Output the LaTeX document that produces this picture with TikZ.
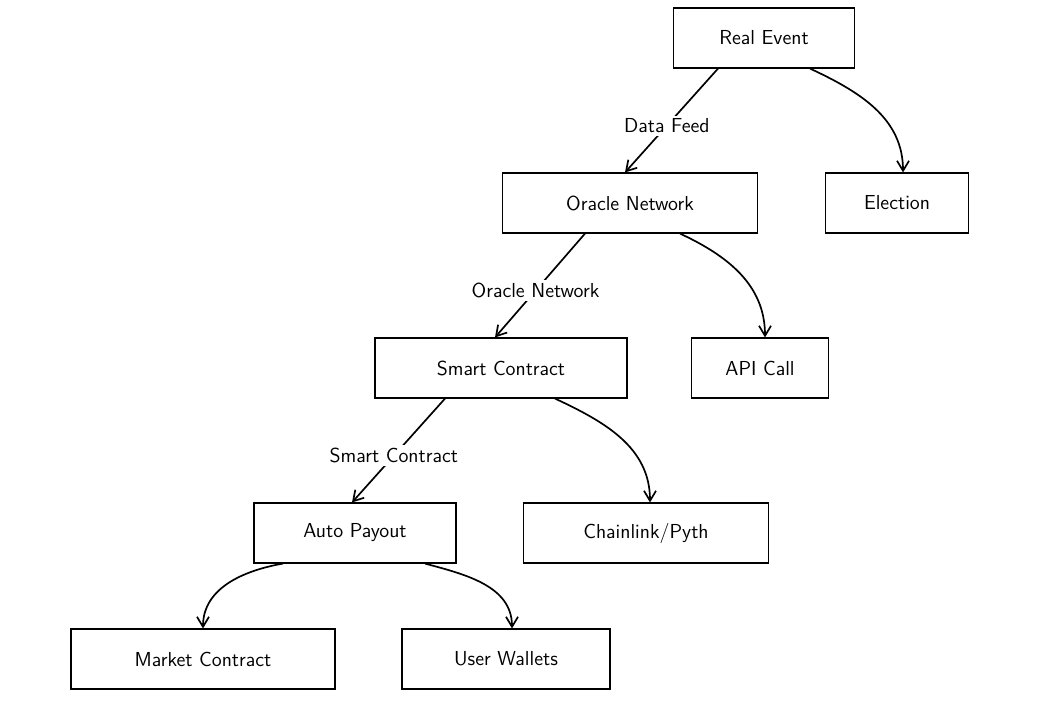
\documentclass[tikz,border=0pt]{standalone}
\usetikzlibrary{positioning,arrows.meta}
\begin{document}
\begin{tikzpicture}
   [x=0.025cm,y=-0.025cm,
    box/.style={draw,thick,rectangle,minimum height=1.5cm,inner xsep=0.45cm,font=\sffamily\Large},
    link/.style={-{Straight Barb[length=2.5mm,width=3mm]},very thick},
    lbl/.style={fill=white,font=\sffamily\Large,inner sep=2pt}]
\useasboundingbox (0,0) rectangle (1051,709);
\node [box,minimum width=4.525cm] (real) at (764,38) {Real Event};
\node [box,minimum width=6.375cm] (oracle) at (630,203) {Oracle Network};
\node [box,minimum width=3.575cm] (elect) at (897,203) {Election};
\node [box,minimum width=6.3cm] (smart) at (501,368) {Smart Contract};
\node [box,minimum width=3.425cm] (api) at (760,368) {API Call};
\node [box,minimum width=5.05cm] (auto) at (355,533) {Auto Payout};
\node [box,minimum width=6.125cm] (chain) at (646,533) {Chainlink/Pyth};
\node [box,minimum width=6.6cm] (market) at (203,659) {Market Contract};
\node [box,minimum width=5.2cm] (wallet) at (506,659) {User Wallets};
% labelled links
\draw [link] (real.south -| 718,0) -- node [lbl,pos=0.55] {Data Feed} (oracle.north -| 625,0);
\draw [link] (oracle.south -| 585,0) -- node [lbl,pos=0.55] {Oracle Network} (smart.north -| 495,0);
\draw [link] (smart.south -| 445,0) -- node [lbl,pos=0.55] {Smart Contract} (auto.north -| 352,0);
% curved links
\draw [link] (real.south -| 810,0) to [out=-25,in=90] (elect.north -| 903,0);
\draw [link] (oracle.south -| 680,0) to [out=-25,in=90] (api.north -| 765,0);
\draw [link] (smart.south -| 555,0) to [out=-25,in=90] (chain.north -| 650,0);
\draw [link] (auto.south -| 283,0) to [out=190,in=90] (market.north -| 203,0);
\draw [link] (auto.south -| 425,0) to [out=-15,in=90] (wallet.north -| 512,0);
\end{tikzpicture}
\end{document}
